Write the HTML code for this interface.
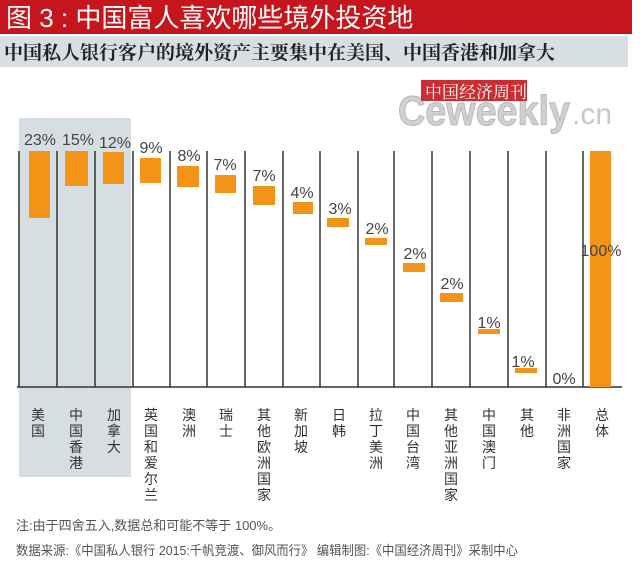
<!DOCTYPE html>
<html><head><meta charset="utf-8"><style>
body{margin:0;background:#fff;width:640px;height:583px;overflow:hidden}
svg{display:block}
</style></head><body>
<svg width="640" height="583" xmlns="http://www.w3.org/2000/svg" font-family="Liberation Sans, Noto Sans CJK SC, sans-serif">
<rect x="0" y="0" width="632" height="34" fill="#c4161c"/>
<text x="6" y="27" font-size="26" fill="#fff">图 3 : 中国富人喜欢哪些境外投资地</text>
<rect x="0" y="36" width="628" height="31" fill="#d8dfe2"/>
<text x="4" y="59" font-size="19" fill="#222" font-family="Liberation Serif, Noto Serif CJK SC, serif" font-weight="bold">中国私人银行客户的境外资产主要集中在美国、中国香港和加拿大</text>
<text x="398" y="125" font-size="42" font-weight="bold" fill="#d0d0d0" stroke="#b8b8b8" stroke-width="1" textLength="172" lengthAdjust="spacingAndGlyphs">Ceweekly</text>
<text x="572" y="124" font-size="30" fill="#c8c8c8">.cn</text>
<rect x="421" y="80" width="106" height="21" fill="#c4161c" opacity="0.9"/>
<text x="425" y="98" font-size="17" fill="#fff" font-family="Liberation Serif, Noto Serif CJK SC, serif">中国经济周刊</text>
<rect x="19" y="118" width="112" height="359" fill="#d6dee2"/>
<g stroke="#333" stroke-width="1.5">
<line x1="17" y1="387" x2="622" y2="387"/>
<line x1="19" y1="151" x2="19" y2="387"/><line x1="57" y1="151" x2="57" y2="387"/><line x1="95" y1="151" x2="95" y2="387"/><line x1="133" y1="151" x2="133" y2="387"/><line x1="170" y1="151" x2="170" y2="387"/><line x1="207" y1="151" x2="207" y2="387"/><line x1="245" y1="151" x2="245" y2="387"/><line x1="283" y1="151" x2="283" y2="387"/><line x1="320" y1="151" x2="320" y2="387"/><line x1="358" y1="151" x2="358" y2="387"/><line x1="394" y1="151" x2="394" y2="387"/><line x1="432" y1="151" x2="432" y2="387"/><line x1="470" y1="151" x2="470" y2="387"/><line x1="508" y1="151" x2="508" y2="387"/><line x1="546" y1="151" x2="546" y2="387"/><line x1="583" y1="151" x2="583" y2="387"/>
</g>
<g fill="#f39419">
<rect x="29" y="151" width="21" height="67"/><rect x="65" y="151" width="23" height="35"/><rect x="103" y="152" width="21" height="32"/><rect x="140" y="158" width="21" height="25"/><rect x="177" y="166" width="22" height="21"/><rect x="215" y="175" width="21" height="18"/><rect x="253" y="186" width="22" height="19"/><rect x="293" y="202" width="20" height="12"/><rect x="327" y="218" width="22" height="9"/><rect x="365" y="238" width="22" height="7"/><rect x="403" y="263" width="22" height="9"/><rect x="440" y="293" width="23" height="9"/><rect x="478" y="329" width="22" height="5"/><rect x="515" y="368" width="22" height="5"/><rect x="590" y="151" width="21" height="236"/>
</g>
<g font-size="16" fill="#444" text-anchor="middle">
<text x="40" y="145">23%</text><text x="78" y="145">15%</text><text x="115" y="148">12%</text><text x="151" y="153">9%</text><text x="189" y="161">8%</text><text x="225" y="170">7%</text><text x="264" y="181">7%</text><text x="302" y="198">4%</text><text x="340" y="214">3%</text><text x="377" y="234">2%</text><text x="415" y="259">2%</text><text x="452" y="289">2%</text><text x="489" y="328">1%</text><text x="523" y="367">1%</text><text x="564" y="384">0%</text><text x="601" y="256">100%</text>
</g>
<g font-size="14" fill="#333" text-anchor="middle">
<text x="38" y="420">美</text><text x="38" y="436">国</text>
<text x="76" y="420">中</text><text x="76" y="436">国</text><text x="76" y="452">香</text><text x="76" y="468">港</text>
<text x="114" y="420">加</text><text x="114" y="436">拿</text><text x="114" y="452">大</text>
<text x="151" y="420">英</text><text x="151" y="436">国</text><text x="151" y="452">和</text><text x="151" y="468">爱</text><text x="151" y="484">尔</text><text x="151" y="500">兰</text>
<text x="189" y="420">澳</text><text x="189" y="436">洲</text>
<text x="226" y="420">瑞</text><text x="226" y="436">士</text>
<text x="264" y="420">其</text><text x="264" y="436">他</text><text x="264" y="452">欧</text><text x="264" y="468">洲</text><text x="264" y="484">国</text><text x="264" y="500">家</text>
<text x="301" y="420">新</text><text x="301" y="436">加</text><text x="301" y="452">坡</text>
<text x="339" y="420">日</text><text x="339" y="436">韩</text>
<text x="376" y="420">拉</text><text x="376" y="436">丁</text><text x="376" y="452">美</text><text x="376" y="468">洲</text>
<text x="413" y="420">中</text><text x="413" y="436">国</text><text x="413" y="452">台</text><text x="413" y="468">湾</text>
<text x="451" y="420">其</text><text x="451" y="436">他</text><text x="451" y="452">亚</text><text x="451" y="468">洲</text><text x="451" y="484">国</text><text x="451" y="500">家</text>
<text x="489" y="420">中</text><text x="489" y="436">国</text><text x="489" y="452">澳</text><text x="489" y="468">门</text>
<text x="527" y="420">其</text><text x="527" y="436">他</text>
<text x="564" y="420">非</text><text x="564" y="436">洲</text><text x="564" y="452">国</text><text x="564" y="468">家</text>
<text x="602" y="420">总</text><text x="602" y="436">体</text>
</g>
<g font-size="13" fill="#555">
<text x="16" y="530">注:由于四舍五入,数据总和可能不等于 100%。</text>
<text x="16" y="555" textLength="502" lengthAdjust="spacingAndGlyphs">数据来源:《中国私人银行 2015:千帆竞渡、御风而行》 编辑制图:《中国经济周刊》采制中心</text>
</g>
</svg>
</body></html>
